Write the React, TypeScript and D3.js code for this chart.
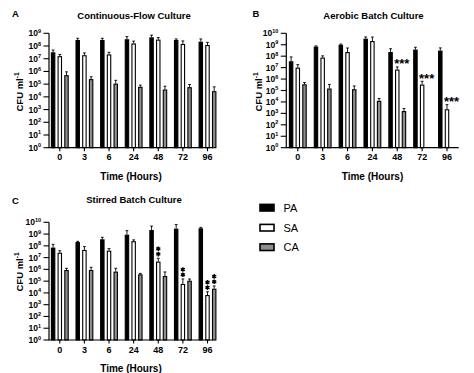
import React from "react";
import * as d3 from "d3";

const TIMES = ["0", "3", "6", "24", "48", "72", "96"];
const SERIES = ["PA", "SA", "CA"];

// Panel A – Continuous-Flow Culture (CFU/ml)
const A_PA = [3.2e7, 3.0e8, 3.0e8, 3.4e8, 4.8e8, 3.0e8, 2.2e8];
const A_SA = [1.6e7, 1.9e7, 2.2e7, 1.6e8, 3.2e8, 1.45e8, 1.2e8];
const A_CA = [5.1e5, 2.5e5, 1.1e5, 6.2e4, 3.8e4, 5.8e4, 2.8e4];
const A_PA_SD = [1.6e7, 1.05e8, 1.05e8, 2.1e8, 2.4e8, 6e7, 1.4e8];
const A_SA_SD = [5.6e6, 9.7e6, 1.0e7, 8.2e7, 1.4e8, 1.07e8, 7.4e7];
const A_CA_SD = [4.2e5, 1.3e5, 9e4, 2.2e4, 3.1e4, 3.6e4, 3.3e4];

// Panel B – Aerobic Batch Culture
const B_PA = [3.6e7, 6.9e8, 1.0e9, 3.4e9, 2.3e8, 3.8e8, 3.1e8];
const B_SA = [1.0e7, 7.6e7, 2.3e8, 2.1e9, 6.8e6, 3.3e5, 2.3e3];
const B_CA = [3.5e5, 1.5e5, 1.3e5, 1.26e4, 1.6e3, null, null];
const B_PA_SD = [5.0e7, 1.0e8, 1.5e8, 1.4e9, 2.2e8, 2.2e8, 2.2e8];
const B_SA_SD = [8.2e6, 3.1e7, 2.9e8, 2.6e9, 4.7e6, 3.1e5, 3.5e3];
const B_CA_SD = [1.45e5, 1.9e5, 1.2e5, 7.4e3, 1.1e3, null, null];

// Panel C – Stirred Batch Culture
const C_PA = [7.1e7, 2.1e8, 3.6e8, 8.9e8, 2.2e9, 2.9e9, 3.1e9];
const C_SA = [2.6e7, 4.5e7, 3.9e7, 2.5e8, 4.6e6, 5.8e4, 6.6e3];
const C_CA = [8.9e5, 8.9e5, 6.5e5, 3.8e5, 2.75e5, 1.1e5, 2.3e4];
const C_PA_SD = [6.4e7, 3.1e7, 1.7e8, 1.06e9, 2.6e9, 3.5e9, 6.2e8];
const C_SA_SD = [1.25e7, 4.1e7, 1.9e7, 7.2e7, 4.2e6, 9.5e4, 6e3];
const C_CA_SD = [3.4e5, 6.2e5, 5.9e5, 7.6e4, 3.3e5, 4.2e4, 1.6e4];

// significance marks: [time, series index]
const B_STARS: [string, number][] = [["48", 1], ["72", 1], ["96", 1]];
const C_STARS: [string, number][] = [["48", 1], ["72", 1], ["96", 1], ["96", 2]];

const FONT = "'Liberation Sans', Arial, sans-serif";
const FILLS = ["#000000", "#ffffff", "#8e8e8e"];
const ASTERISK = d3.symbol(d3.symbolAsterisk, 15)() as string;

type PanelProps = {
  letter: string;
  title: string;
  x0: number; x1: number; c0: number; c1: number;
  yTop: number; yBot: number; maxExp: number;
  values: (number | null)[][];
  sds: (number | null)[][];
  stars: [string, number][];
  starMode: "h" | "v";
  letterPos: [number, number];
  titlePos: [number, number];
  yLabelPos: [number, number];
  xLabelY: number;
  tickLabelY: number;
};

function Panel(p: PanelProps) {
  const y = d3.scaleLog().domain([1, Math.pow(10, p.maxExp)]).range([p.yBot, p.yTop]);
  const x = d3.scalePoint<string>().domain(TIMES).range([p.c0, p.c1]);
  const exps = d3.range(0, p.maxExp + 1);
  const off = 6.7;
  const bw = 3.4;
  const sw = 1.1;
  const errTop = (si: number, ti: number) => {
    const v = p.values[si][ti] as number;
    const sd = p.sds[si][ti] as number;
    return y(v + sd);
  };
  return (
    <g>
      <text x={p.letterPos[0]} y={p.letterPos[1]} fontFamily={FONT} fontWeight="bold" fontSize={9.5}>{p.letter}</text>
      <text x={p.titlePos[0]} y={p.titlePos[1]} fontFamily={FONT} fontWeight="bold" fontSize={9.5} textAnchor="middle">{p.title}</text>
      {/* bars */}
      {p.values.map((arr, si) =>
        arr.map((v, ti) => {
          if (v == null) return null;
          const cx = (x(TIMES[ti]) as number) + (si - 1) * off;
          const top = y(v);
          return (
            <rect key={`b${si}-${ti}`} x={cx - bw / 2} y={top + sw / 2} width={bw} height={Math.max(0, p.yBot - top - sw / 2)}
              fill={FILLS[si]} stroke="#000" strokeWidth={sw} />
          );
        })
      )}
      {/* error bars */}
      {p.values.map((arr, si) =>
        arr.map((v, ti) => {
          const sd = p.sds[si][ti];
          if (v == null || sd == null) return null;
          const cx = (x(TIMES[ti]) as number) + (si - 1) * off;
          const t = y(v + sd);
          return (
            <g key={`e${si}-${ti}`} stroke="#000" strokeWidth={0.9}>
              <line x1={cx} x2={cx} y1={y(v)} y2={t} />
              <line x1={cx - 1.4} x2={cx + 1.4} y1={t} y2={t} />
            </g>
          );
        })
      )}
      {/* stars */}
      {p.stars.map(([t, si], k) => {
        const cx = (x(t) as number) + (si - 1) * off;
        const et = errTop(si, TIMES.indexOf(t));
        if (p.starMode === "h") {
          const cy = et - 6;
          return (
            <text key={`s${k}`} x={cx + 4.5} y={cy + 7.4} fontFamily={FONT} fontWeight="bold" fontSize={13} textAnchor="middle">***</text>
          );
        }
        return (
          <g key={`s${k}`} stroke="#000" strokeWidth={1.4} fill="none">
            {[4.2, 9.5].map((d, j) => (
              <path key={j} d={ASTERISK} transform={`translate(${cx},${et - d})`} />
            ))}
          </g>
        );
      })}
      {/* y axis */}
      <line x1={p.x0} x2={p.x0} y1={p.yTop} y2={p.yBot} stroke="#000" strokeWidth={1.2} />
      {exps.map((e) => {
        const ty = y(Math.pow(10, e));
        return (
          <g key={`yt${e}`}>
            <line x1={p.x0 - 5.5} x2={p.x0} y1={ty} y2={ty} stroke="#000" strokeWidth={1.1} />
            <text x={p.x0 - 8} y={ty + 3} fontFamily={FONT} fontWeight="bold" fontSize={8.5} textAnchor="end">
              10<tspan fontSize={5.5} dy={-3.5}>{e}</tspan>
            </text>
          </g>
        );
      })}
      {/* x axis */}
      <line x1={p.x0 - 0.6} x2={p.x1} y1={p.yBot} y2={p.yBot} stroke="#000" strokeWidth={1.2} />
      {TIMES.map((t) => (
        <g key={`xt${t}`}>
          <line x1={x(t)} x2={x(t)} y1={p.yBot} y2={p.yBot + 3.5} stroke="#000" strokeWidth={1.1} />
          <text x={x(t)} y={p.tickLabelY} fontFamily={FONT} fontWeight="bold" fontSize={9} textAnchor="middle">{t}</text>
        </g>
      ))}
      <text x={(p.x0 + p.x1) / 2} y={p.xLabelY} fontFamily={FONT} fontWeight="bold" fontSize={10} textAnchor="middle">Time (Hours)</text>
      <text transform={`translate(${p.yLabelPos[0]},${p.yLabelPos[1]}) rotate(-90)`} fontFamily={FONT} fontWeight="bold" fontSize={9.5} textAnchor="middle" dy="0.35em">
        CFU ml<tspan fontSize={6.5} dy={-4}>-1</tspan>
      </text>
    </g>
  );
}

export default function App() {
  return (
    <svg width={474} height={373} style={{ position: "absolute", left: 0, top: 0, background: "#fff" }}>
      <rect width={474} height={373} fill="#fff" />
      <Panel letter="A" title="Continuous-Flow Culture"
        x0={49} x1={213} c0={59.8} c1={207.5} yTop={33.3} yBot={147.7} maxExp={9}
        values={[A_PA, A_SA, A_CA]} sds={[A_PA_SD, A_SA_SD, A_CA_SD]} stars={[]} starMode="h"
        letterPos={[12, 17]} titlePos={[134, 18.5]} yLabelPos={[20, 92]} xLabelY={180} tickLabelY={160} />
      <Panel letter="B" title="Aerobic Batch Culture"
        x0={286.3} x1={458.7} c0={297.8} c1={447} yTop={33.3} yBot={147.7} maxExp={10}
        values={[B_PA, B_SA, B_CA]} sds={[B_PA_SD, B_SA_SD, B_CA_SD]} stars={B_STARS} starMode="h"
        letterPos={[252.5, 17]} titlePos={[373.5, 18.5]} yLabelPos={[259, 92]} xLabelY={180} tickLabelY={160} />
      <Panel letter="C" title="Stirred Batch Culture"
        x0={49} x1={213} c0={59.8} c1={207.5} yTop={222.3} yBot={340} maxExp={10}
        values={[C_PA, C_SA, C_CA]} sds={[C_PA_SD, C_SA_SD, C_CA_SD]} stars={C_STARS} starMode="v"
        letterPos={[12, 203.5]} titlePos={[134, 202.8]} yLabelPos={[20, 272]} xLabelY={372} tickLabelY={352.5} />
      {/* legend */}
      {SERIES.map((s, i) => {
        const cy = [207.7, 227.7, 247.2][i];
        return (
          <g key={s}>
            <rect x={260} y={cy - 3.3} width={14} height={6.6} fill={FILLS[i]} stroke="#000" strokeWidth={1.6} />
            <text x={283.5} y={cy + 4} fontFamily={FONT} fontSize={11}>{s}</text>
          </g>
        );
      })}
    </svg>
  );
}
